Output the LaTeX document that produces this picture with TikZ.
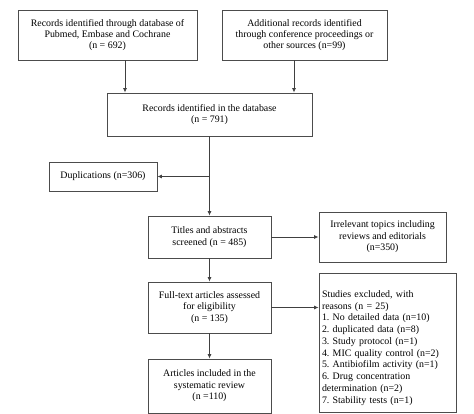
\documentclass[tikz,border=0pt]{standalone}
\usepackage{fontspec}
\setmainfont{Liberation Serif}
\usetikzlibrary{positioning, arrows.meta}
\tikzset{
  box/.style={draw=black!70, line width=0.9pt, align=center, inner sep=2pt,
    font=\fontsize{9.9}{11.4}\selectfont\frenchspacing},
  arr/.style={draw=black!75, line width=0.8pt, -{Latex[length=4.5pt,width=4pt]}}
}

\begin{document}
\begin{tikzpicture}[x=1pt, y=-1pt]
\useasboundingbox (0,0) rectangle (474,414);
% sources
\node[box, minimum width=179pt, minimum height=50pt] (pubmed) at (107.5,35)
  {Records identified through database of\\Pubmed, Embase and Cochrane\\(n = 692)};
\node[box, minimum width=165pt, minimum height=50pt] (other) at (304.5,35)
  {Additional records identified\\through conference proceedings or\\other sources (n=99)};
% main column
\node[box, minimum width=205pt, minimum height=43pt] (records) at (209.5,114.5)
  {Records identified in the database\\(n = 791)};
\node[box, minimum width=108pt, minimum height=29pt] (dup) at (103,176.5)
  {Duplications (n=306)};
\node[box, minimum width=123pt, minimum height=42pt] (titles) at (209.5,237)
  {Titles and abstracts\\screened (n = 485)};
\node[box, minimum width=127pt, minimum height=50pt] (irrel) at (382.5,237)
  {Irrelevant topics including\\reviews and editorials\\(n=350)};
\node[box, minimum width=123pt, minimum height=51pt] (full) at (209.5,307.5)
  {Full-text articles assessed\\for eligibility\\(n = 135)};
\node[box, minimum width=123pt, minimum height=54pt] (incl) at (209.5,386)
  {Articles included in the\\systematic review\\(n =110)};
\node[box, anchor=north, minimum width=137pt, minimum height=139pt,
  align=left, text width=131pt, inner sep=3pt, text depth=100pt,
  font=\fontsize{9.9}{11.75}\selectfont\frenchspacing] (excl) at (387.5,273)
  {\rule{0pt}{9pt}Studies excluded, with\\reasons (n = 25)\\1. No detailed data (n=10)\\2. duplicated data (n=8)\\3. Study protocol (n=1)\\4. MIC quality control (n=2)\\5. Antibiofilm activity (n=1)\\6. Drug concentration\\determination (n=2)\\7. Stability tests (n=1)};
% connectors
\coordinate (split) at (records.south |- dup.east);
\draw[arr] ([xshift=17.5pt]pubmed.south) -- ([xshift=17.5pt]pubmed.south |- records.north);
\draw[arr] ([xshift=-10.5pt]other.south) -- ([xshift=-10.5pt]other.south |- records.north);
\draw[arr] (records.south) -- (titles.north);
\draw[arr] (split) -- (dup.east);
\draw[arr] (titles.east) -- (irrel.west);
\draw[arr] (titles.south) -- (full.north);
\draw[arr] (full.east) -- (full.east -| excl.west);
\draw[arr] (full.south) -- (incl.north);
\end{tikzpicture}
\end{document}
